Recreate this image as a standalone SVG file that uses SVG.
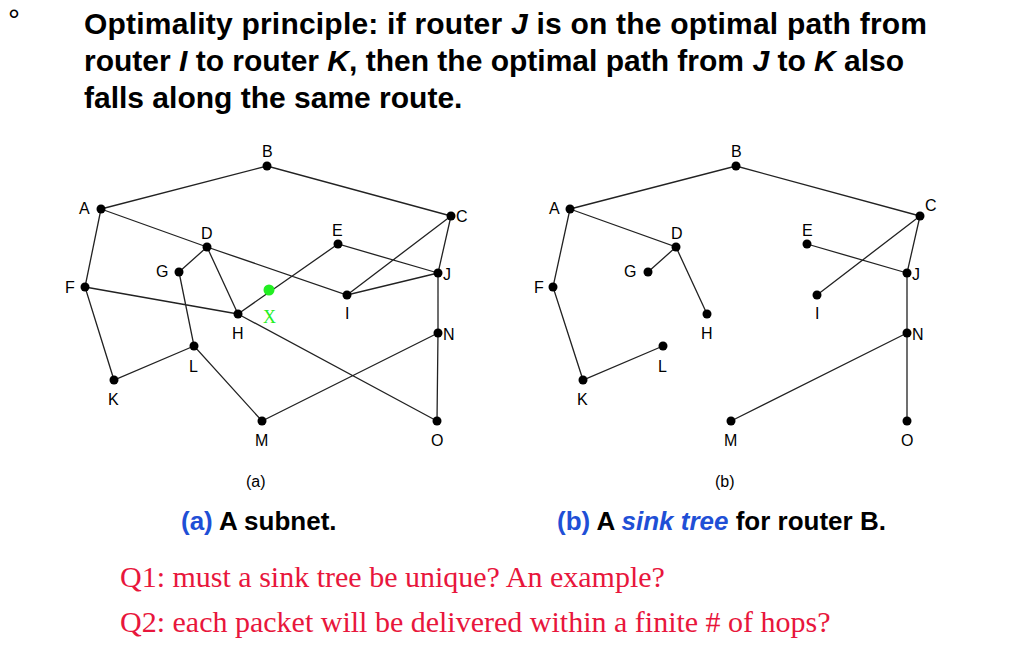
<svg xmlns="http://www.w3.org/2000/svg" width="1024" height="658" viewBox="0 0 1024 658">
<style>
.e{stroke:#222;stroke-width:1.3;fill:none}
.n{fill:#000}
.l{font-family:"Liberation Sans",Arial,sans-serif;font-size:16px;fill:#000}
.t{font-family:"Liberation Sans",Arial,sans-serif;font-size:30px;font-weight:bold;fill:#000}
.c{font-family:"Liberation Sans",Arial,sans-serif;font-size:26px;font-weight:bold;fill:#000}
.b{fill:#1f4fd6}
.q{font-family:"Liberation Serif","Times New Roman",serif;font-size:30px;fill:#e8163c}
</style>
<rect width="1024" height="658" fill="#fff"/>
<text x="8" y="30" font-family="Liberation Sans,sans-serif" font-size="30">°</text>
<text class="t" x="84" y="34" textLength="843">Optimality principle: if router <tspan font-style="italic">J</tspan> is on the optimal path from</text>
<text class="t" x="84" y="71">router <tspan font-style="italic">I</tspan> to router <tspan font-style="italic">K</tspan>, then the optimal path from <tspan font-style="italic">J</tspan> to <tspan font-style="italic">K</tspan> also</text>
<text class="t" x="84" y="108">falls along the same route.</text>
<g id="connectors">
<path class="e" d="M101,209L267,166L451,216M101,209L207,247L347,295L438,273M207,247L179,272M207,247L238,314M85,287L238,314M238,314L338,244L438,273M451,216L347,295M451,216L438,273L438,333L437,421M238,314L437,421M438,333L262,421L194,346L179,272M194,346L114,380L85,287L101,209"/>
<path class="e" d="M570,209L736,166L920,216M570,209L676,247L648,272M676,247L707,314M570,209L553,287L583,380L663,346M920,216L817,295M920,216L907,273L907,333L907,421M907,333L731,421M807,244L907,273"/>
</g>
<g id="left" class="n">
<circle cx="267" cy="166" r="4.5"/><circle cx="101" cy="209" r="4.5"/><circle cx="451" cy="216" r="4.5"/><circle cx="207" cy="247" r="4.5"/><circle cx="338" cy="244" r="4.5"/><circle cx="179" cy="272" r="4.5"/><circle cx="85" cy="287" r="4.5"/><circle cx="438" cy="273" r="4.5"/><circle cx="347" cy="295" r="4.5"/><circle cx="238" cy="314" r="4.5"/><circle cx="438" cy="333" r="4.5"/><circle cx="194" cy="346" r="4.5"/><circle cx="114" cy="380" r="4.5"/><circle cx="262" cy="421" r="4.5"/><circle cx="437" cy="421" r="4.5"/>
<circle cx="269" cy="290" r="5.5" fill="#22ee22"/>
</g>
<g id="right" class="n">
<circle cx="736" cy="166" r="4.5"/><circle cx="570" cy="209" r="4.5"/><circle cx="920" cy="216" r="4.5"/><circle cx="676" cy="247" r="4.5"/><circle cx="807" cy="244" r="4.5"/><circle cx="648" cy="272" r="4.5"/><circle cx="553" cy="287" r="4.5"/><circle cx="907" cy="273" r="4.5"/><circle cx="817" cy="295" r="4.5"/><circle cx="707" cy="314" r="4.5"/><circle cx="907" cy="333" r="4.5"/><circle cx="663" cy="346" r="4.5"/><circle cx="583" cy="380" r="4.5"/><circle cx="731" cy="421" r="4.5"/><circle cx="907" cy="421" r="4.5"/>
</g>
<g id="labels" class="l">
<text x="262" y="157">B</text><text x="79" y="214">A</text><text x="456" y="222">C</text><text x="201" y="239">D</text><text x="332" y="236">E</text><text x="156" y="277">G</text><text x="65" y="293">F</text><text x="443" y="280">J</text><text x="345" y="319">I</text><text x="232" y="339">H</text><text x="443" y="340">N</text><text x="189" y="372">L</text><text x="108" y="405">K</text><text x="255" y="446">M</text><text x="431" y="446">O</text>
<text x="263" y="323" font-family="Liberation Serif,serif" font-size="18" fill="#22ee22">X</text>
<text x="731" y="157">B</text><text x="549" y="214">A</text><text x="925" y="211">C</text><text x="671" y="239">D</text><text x="802" y="236">E</text><text x="624" y="277">G</text><text x="534" y="293">F</text><text x="912" y="280">J</text><text x="815" y="319">I</text><text x="701" y="339">H</text><text x="912" y="340">N</text><text x="658" y="372">L</text><text x="577" y="405">K</text><text x="724" y="446">M</text><text x="901" y="446">O</text>
<text x="246" y="487">(a)</text><text x="715" y="487">(b)</text>
</g>
<text class="c" x="181" y="530"><tspan class="b">(a)</tspan> A subnet.</text>
<text class="c" x="557" y="530"><tspan class="b">(b)</tspan> A <tspan class="b" font-style="italic">sink tree</tspan> for router B.</text>
<text class="q" x="120" y="587">Q1: must a sink tree be unique? An example?</text>
<text class="q" x="120" y="632">Q2: each packet will be delivered within a finite # of hops?</text>
</svg>
